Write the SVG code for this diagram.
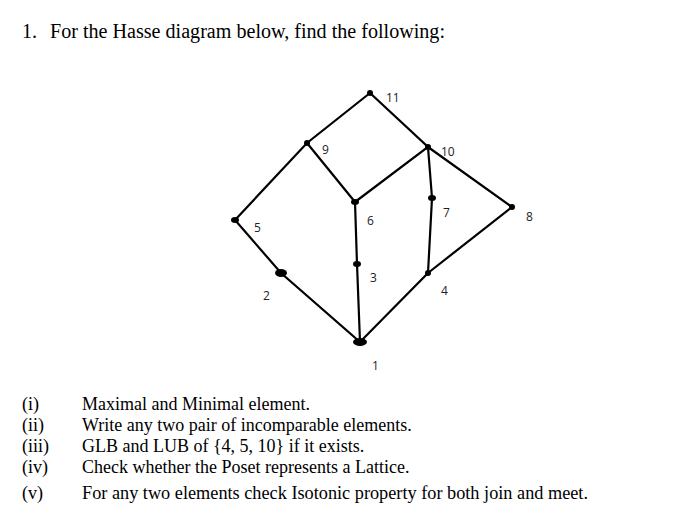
<svg xmlns="http://www.w3.org/2000/svg" width="697" height="522" viewBox="0 0 697 522">
<style>
.e{stroke:#000;stroke-width:2.2;fill:none}
.n{fill:#000}
.l{font-family:"Open Sans","Liberation Sans",sans-serif;font-size:12px;fill:#222}
.t{font-family:"Liberation Serif",serif;font-size:18px;fill:#000}
</style>
<rect width="697" height="522" fill="#fff"/>
<text class="t" x="22" y="38" style="font-size:20px">1.</text>
<text class="t" x="50" y="38" style="font-size:20px" textLength="395" lengthAdjust="spacingAndGlyphs">For the Hasse diagram below, find the following:</text>
<g id="connectors">
<path class="e" d="M370 93L307 143L235 220L281 273L360 342L357 264L355 202L307 143"/>
<path class="e" d="M370 93L428 147L355 202"/>
<path class="e" d="M428 147L432 198L428 273L360 342"/>
<path class="e" d="M428 147L512 207L428 273"/>
</g>
<g id="n11"><ellipse class="n" cx="370" cy="93" rx="3" ry="3"/><text class="l" x="386" y="102">11</text></g>
<g id="n9"><ellipse class="n" cx="307" cy="143" rx="3" ry="3"/><text class="l" x="322" y="154">9</text></g>
<g id="n10"><ellipse class="n" cx="428" cy="147" rx="3" ry="3"/><text class="l" x="441" y="156">10</text></g>
<g id="n6"><ellipse class="n" cx="355" cy="202" rx="4" ry="3"/><text class="l" x="367" y="225">6</text></g>
<g id="n7"><ellipse class="n" cx="432" cy="198" rx="4" ry="3"/><text class="l" x="443" y="217">7</text></g>
<g id="n8"><ellipse class="n" cx="512" cy="207" rx="3" ry="3"/><text class="l" x="526" y="221">8</text></g>
<g id="n5"><ellipse class="n" cx="235" cy="220" rx="4" ry="3"/><text class="l" x="254" y="232">5</text></g>
<g id="n2"><ellipse class="n" cx="281" cy="273" rx="6" ry="4"/><text class="l" x="263" y="300">2</text></g>
<g id="n3"><ellipse class="n" cx="357" cy="264" rx="4" ry="3"/><text class="l" x="370" y="282">3</text></g>
<g id="n4"><ellipse class="n" cx="428" cy="273" rx="3" ry="3"/><text class="l" x="441" y="295">4</text></g>
<g id="n1"><ellipse class="n" cx="360" cy="342" rx="7" ry="4"/><text class="l" x="372" y="370">1</text></g>
<text class="t" x="22" y="410">(i)</text><text class="t" x="82" y="410">Maximal and Minimal element.</text>
<text class="t" x="22" y="431">(ii)</text><text class="t" x="82" y="431">Write any two pair of incomparable elements.</text>
<text class="t" x="22" y="452">(iii)</text><text class="t" x="82" y="452">GLB and LUB of {4, 5, 10} if it exists.</text>
<text class="t" x="22" y="473">(iv)</text><text class="t" x="82" y="473">Check whether the Poset represents a Lattice.</text>
<text class="t" x="22" y="499">(v)</text><text class="t" x="82" y="499" textLength="506" lengthAdjust="spacingAndGlyphs">For any two elements check Isotonic property for both join and meet.</text>
</svg>
